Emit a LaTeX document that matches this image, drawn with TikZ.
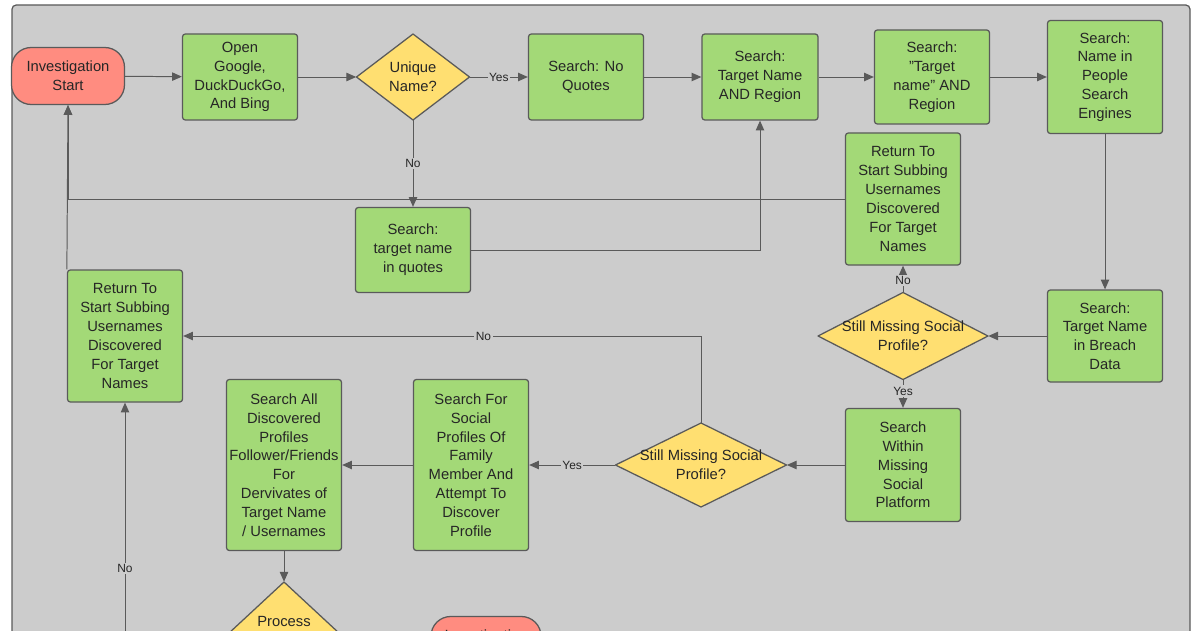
\documentclass[tikz,border=0pt]{standalone}
\usepackage{fontspec}
\setmainfont{Liberation Sans}
\usetikzlibrary{arrows.meta}
\definecolor{bgray}{HTML}{CCCCCC}
\definecolor{edge}{HTML}{5A5A5A}
\definecolor{tred}{HTML}{FF8C80}
\definecolor{pgreen}{HTML}{A3D977}
\definecolor{dyellow}{HTML}{FFDF71}
% diamond: polygon behind a plain node of the given size
\newcommand{\decnode}[5]{%
  \draw[draw=edge,line width=0.9pt,fill=dyellow,line join=round]
    ($(#2)+(0,-#4/2)$) -- ($(#2)+(#3/2,0)$) -- ($(#2)+(0,#4/2)$) -- ($(#2)+(-#3/2,0)$) -- cycle;
  \node[minimum width=#3*0.025cm,minimum height=#4*0.025cm,inner sep=0pt] (#1) at (#2) {#5};}
\usetikzlibrary{calc}
\begin{document}
\begin{tikzpicture}[x=0.025cm,y=-0.025cm,
  every node/.style={font=\fontsize{10.5}{13.4}\selectfont,text=black!85,align=center},
  box/.style={draw=edge,line width=0.9pt,fill=pgreen,rounded corners=2pt,inner sep=1pt},
  term/.style={draw=edge,line width=0.9pt,fill=tred,rounded corners=14pt,inner sep=1pt},
  arr/.style={draw=edge,line width=0.7pt,-{Triangle[length=7pt,width=6pt]}},
  lab/.style={fill=bgray,inner sep=1pt,font=\fontsize{8.5}{10}\selectfont}
]
\useasboundingbox (0,0) rectangle (1200,630);
\clip (0,0) rectangle (1200,630);
\draw[draw=edge,line width=0.9pt,fill=bgray,rounded corners=3pt] (12,5) rectangle (1190,680);

\node[term,minimum width=113*0.025cm,minimum height=57*0.025cm] (start) at (68,76) {Investigation\\Start};
\node[box,minimum width=115*0.025cm,minimum height=86*0.025cm] (open) at (240,77) {Open\\Google,\\DuckDuckGo,\\And Bing};
\decnode{uniq}{413,77}{113}{86}{Unique\\Name?}
\node[box,minimum width=115*0.025cm,minimum height=86*0.025cm] (noq) at (586,77) {Search: No\\Quotes};
\node[box,minimum width=116*0.025cm,minimum height=86*0.025cm] (tnr) at (760,77) {Search:\\Target Name\\AND Region};
\node[box,minimum width=115*0.025cm,minimum height=94*0.025cm] (tnq) at (932,77) {Search:\\"Target\\name" AND\\Region};
\node[box,minimum width=115*0.025cm,minimum height=113*0.025cm] (ppl) at (1105,77) {Search:\\Name in\\People\\Search\\Engines};
\node[box,minimum width=115*0.025cm,minimum height=85*0.025cm] (quo) at (413,250) {Search:\\target name\\in quotes};
\node[box,minimum width=115*0.025cm,minimum height=132*0.025cm] (ret1) at (903,199) {Return To\\Start Subbing\\Usernames\\Discovered\\For Target\\Names};
\node[box,minimum width=115*0.025cm,minimum height=92*0.025cm] (brc) at (1105,336) {Search:\\Target Name\\in Breach\\Data};
\decnode{st1}{903,336}{170}{87}{Still Missing Social\\Profile?}
\node[box,minimum width=115*0.025cm,minimum height=113*0.025cm] (win) at (903,465) {Search\\Within\\Missing\\Social\\Platform};
\decnode{st2}{701,465}{171}{84}{Still Missing Social\\Profile?}
\node[box,minimum width=115*0.025cm,minimum height=171*0.025cm] (fam) at (471,465) {Search For\\Social\\Profiles Of\\Family\\Member And\\Attempt To\\Discover\\Profile};
\node[box,minimum width=115*0.025cm,minimum height=171*0.025cm] (all) at (284,465) {Search All\\Discovered\\Profiles\\Follower/Friends\\For\\Dervivates of\\Target Name\\/ Usernames};
\node[box,minimum width=115*0.025cm,minimum height=132*0.025cm] (ret2) at (125,336) {Return To\\Start Subbing\\Usernames\\Discovered\\For Target\\Names};
\decnode{proc}{284,640}{125}{116}{Process\\Performed on\\All?}
\node[term,minimum width=110*0.025cm,minimum height=57*0.025cm] (end) at (486,645) {Investigation\\End};
\coordinate (bot) at (125,640);

\draw[arr] (start) -- (open);
\draw[arr] (open) -- (uniq.west);
\draw[arr] (uniq.east) -- node[lab]{Yes} (noq);
\draw[arr] (noq) -- (tnr);
\draw[arr] (tnr) -- (tnq);
\draw[arr] (tnq) -- (ppl);
\draw[arr] (uniq.south) -- node[lab]{No} (quo);
\draw[arr] (quo.east) -| (tnr.south);
\draw[arr] (ret1.west) -| (start.south);
\draw[arr] (ppl) -- (brc);
\draw[arr] (brc) -- (st1.east);
\draw[arr] (st1.north) -- node[lab,pos=0.45]{No} (ret1);
\draw[arr] (st1.south) -- node[lab,pos=0.4]{Yes} (win);
\draw[arr] (win) -- (st2.east);
\draw[arr] (st2.west) -- node[lab]{Yes} (fam);
\draw[arr] (st2.north) |- node[lab,pos=0.71]{No} (ret2.east);
\draw[arr] (fam) -- (all);
\draw[arr] (all) -- (proc.north);
\draw[arr] (bot) -- node[lab,pos=0.3]{No} (ret2.south);
\draw[arr] (ret2.north west) -- (start.south);
\end{tikzpicture}
\end{document}
